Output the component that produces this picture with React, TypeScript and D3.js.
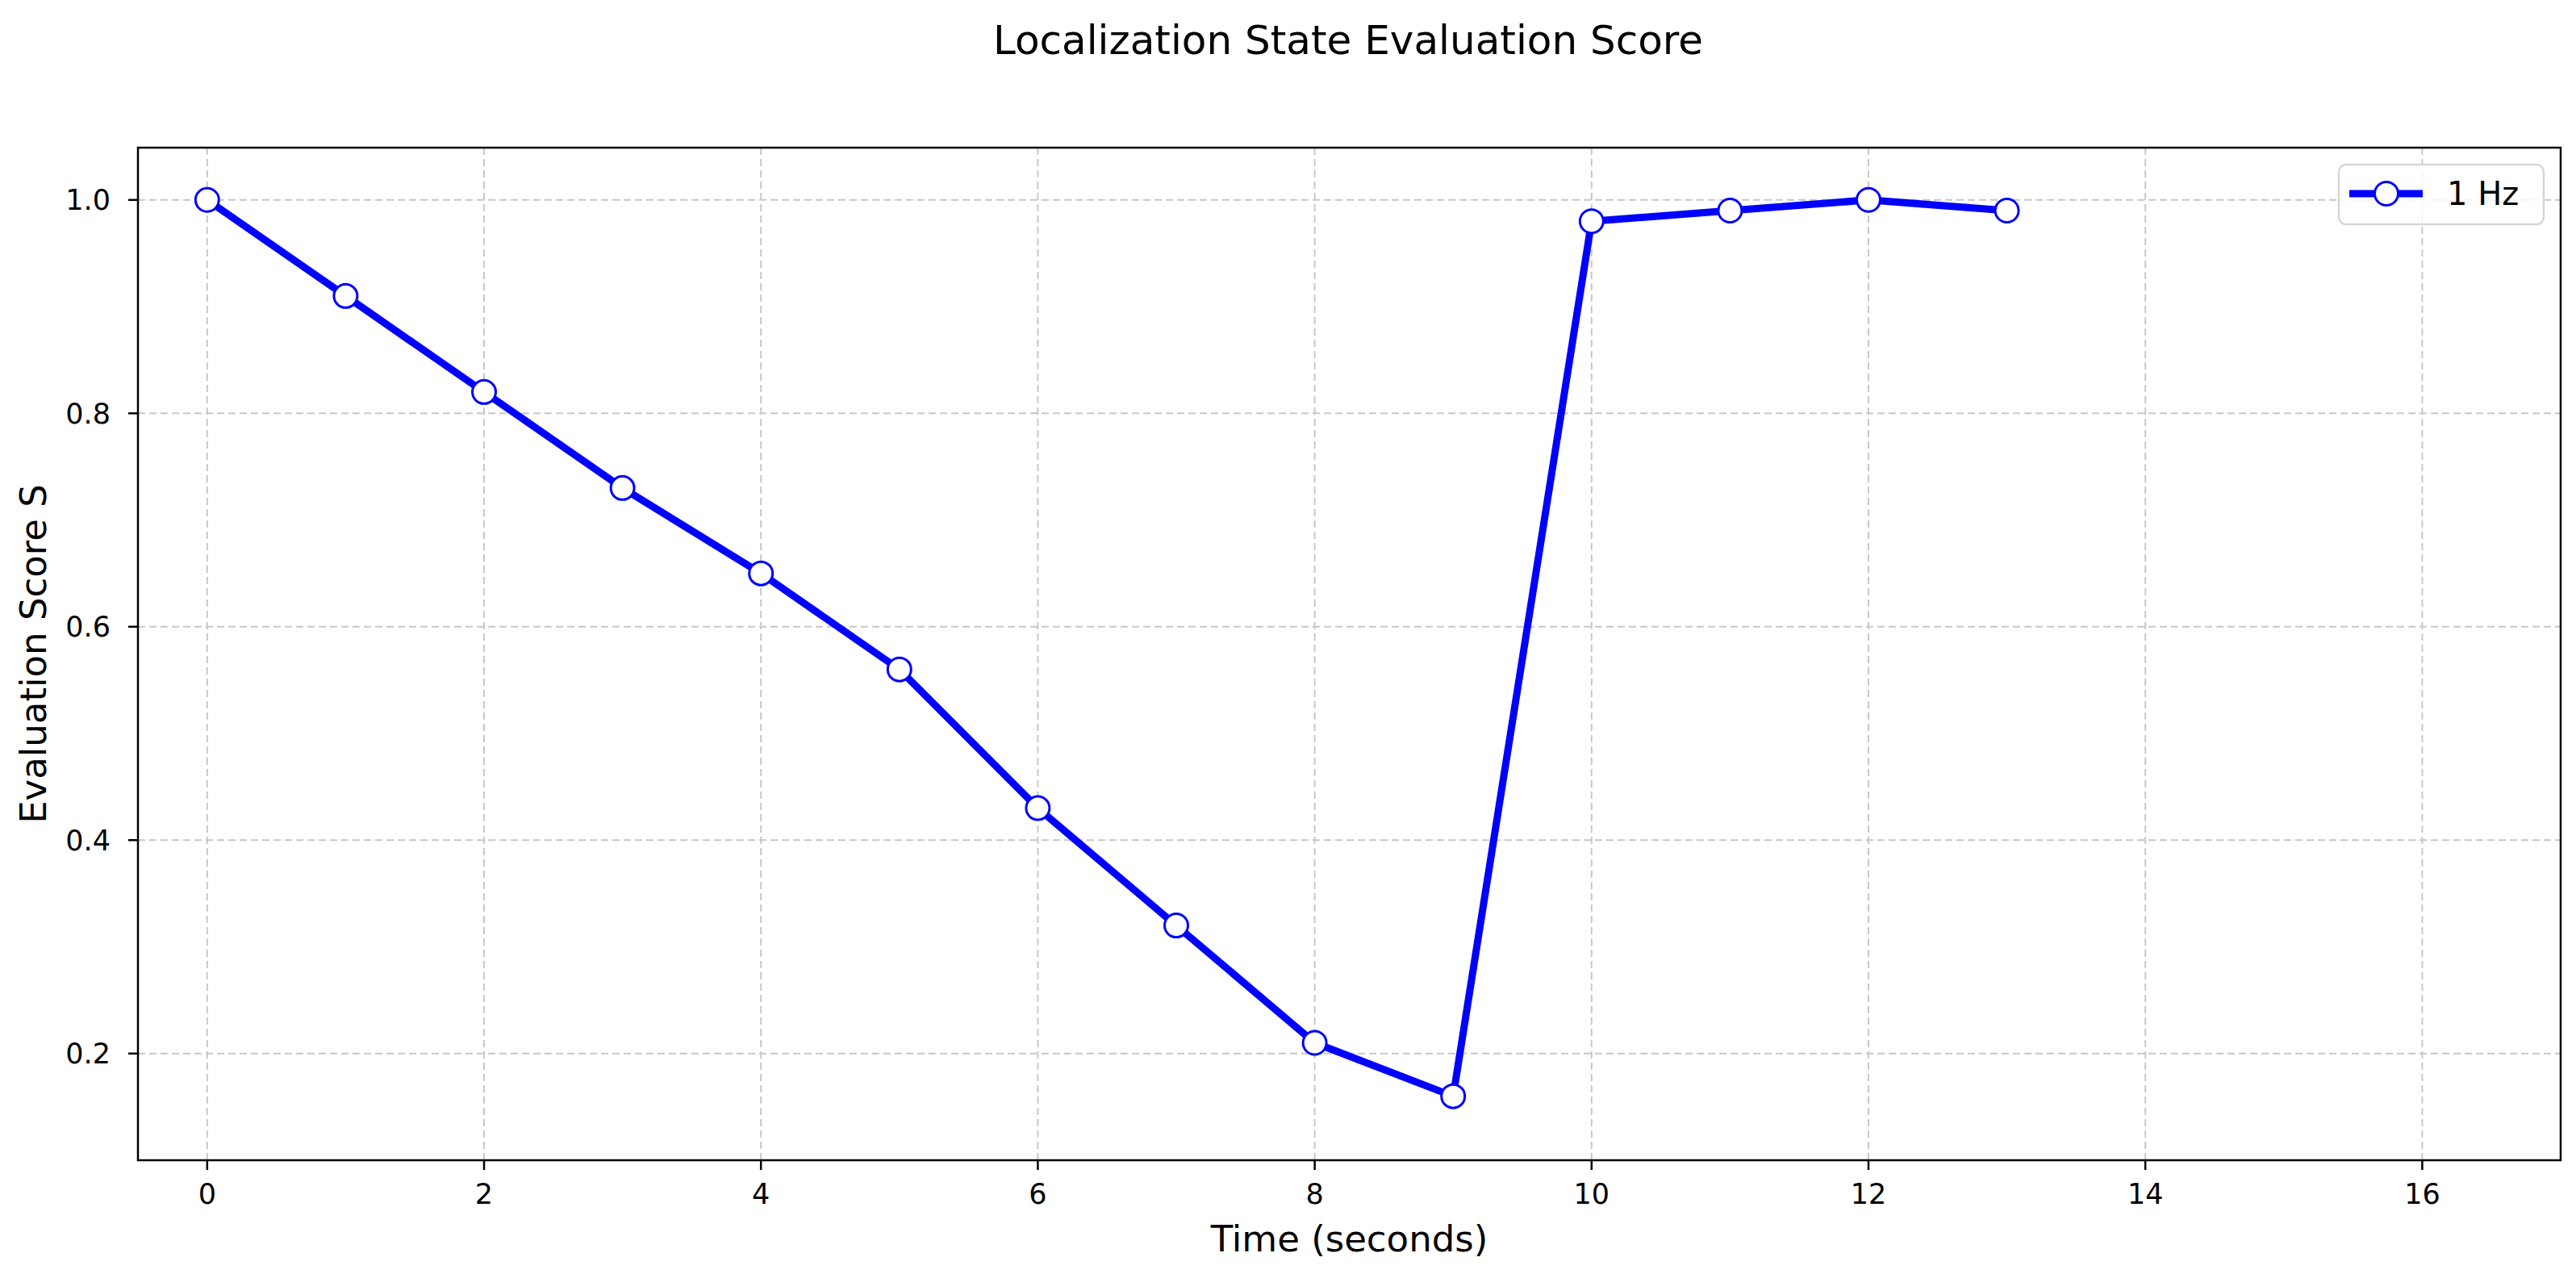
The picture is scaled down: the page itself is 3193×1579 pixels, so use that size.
import React from 'react';
import * as d3 from 'd3';

// values
const times = [0, 1, 2, 3, 4, 5, 6, 7, 8, 9, 10, 11, 12, 13];
const scores = [1.0, 0.91, 0.82, 0.73, 0.65, 0.56, 0.43, 0.32, 0.21, 0.16, 0.98, 0.99, 1.0, 0.99];
const xTicks = [0, 2, 4, 6, 8, 10, 12, 14, 16];
const yTicks = [0.2, 0.4, 0.6, 0.8, 1.0];
const seriesLabel = '1 Hz';

const W = 3193;
const H = 1579;
const left = 171, right = 3174, top = 183, bottom = 1438;
const FONT = 'DejaVu Sans, sans-serif';

function App() {
  const x = d3.scaleLinear().domain([-0.5, 17]).range([left, right]);
  const y = d3.scaleLinear().domain([0.1, 1.049]).range([bottom, top]);

  const pts: [number, number][] = times.map((t, i) => [t, scores[i]]);
  const line = d3.line<[number, number]>()
    .x(d => x(d[0]))
    .y(d => y(d[1]));

  const gridStyle = { stroke: '#c8c8c8', strokeWidth: 2, strokeDasharray: '9,5' };

  return (
    <>
      <style>{`body{margin:0}`}</style>
      <svg width={W} height={H} style={{ display: 'block', background: '#fff' }} fontFamily={FONT}>
        <text x={1671} y={67} fontSize={50} textAnchor="middle">Localization State Evaluation Score</text>

        {/* grid */}
        {xTicks.map(t => (
          <line key={'gx' + t} x1={x(t)} x2={x(t)} y1={top} y2={bottom} {...gridStyle} />
        ))}
        {yTicks.map(t => (
          <line key={'gy' + t} x1={left} x2={right} y1={y(t)} y2={y(t)} {...gridStyle} />
        ))}

        {/* series */}
        <path d={line(pts) || ''} fill="none" stroke="#0000ff" strokeWidth={9} strokeLinejoin="round" />
        {pts.map((p, i) => (
          <circle key={i} cx={x(p[0])} cy={y(p[1])} r={14.5} fill="#fff" stroke="#0000ff" strokeWidth={3} />
        ))}

        {/* frame */}
        <rect x={left} y={top} width={right - left} height={bottom - top} fill="none" stroke="#000" strokeWidth={2.5} />

        {/* x axis */}
        {xTicks.map(t => (
          <g key={'tx' + t}>
            <line x1={x(t)} x2={x(t)} y1={bottom} y2={bottom + 12} stroke="#000" strokeWidth={2.5} />
            <text x={x(t)} y={1492} fontSize={35} textAnchor="middle">{t}</text>
          </g>
        ))}
        <text x={(left + right) / 2} y={1551} fontSize={45} textAnchor="middle">Time (seconds)</text>

        {/* y axis */}
        {yTicks.map(t => (
          <g key={'ty' + t}>
            <line x1={left - 12} x2={left} y1={y(t)} y2={y(t)} stroke="#000" strokeWidth={2.5} />
            <text x={137} y={y(t)} dy="0.36em" fontSize={35} textAnchor="end">{t.toFixed(1)}</text>
          </g>
        ))}
        <text transform={`translate(57,${(top + bottom) / 2}) rotate(-90)`} fontSize={45} textAnchor="middle">Evaluation Score S</text>

        {/* legend */}
        <rect x={2899} y={204} width={254} height={74} rx={9} fill="#fff" fillOpacity={0.8} stroke="#d6d6d6" strokeWidth={2.5} />
        <line x1={2912} x2={3003} y1={240} y2={240} stroke="#0000ff" strokeWidth={9} />
        <circle cx={2958} cy={240} r={14.5} fill="#fff" stroke="#0000ff" strokeWidth={3} />
        <text x={3033} y={240} dy="0.36em" fontSize={40}>{seriesLabel}</text>
      </svg>
    </>
  );
}

export default App;
